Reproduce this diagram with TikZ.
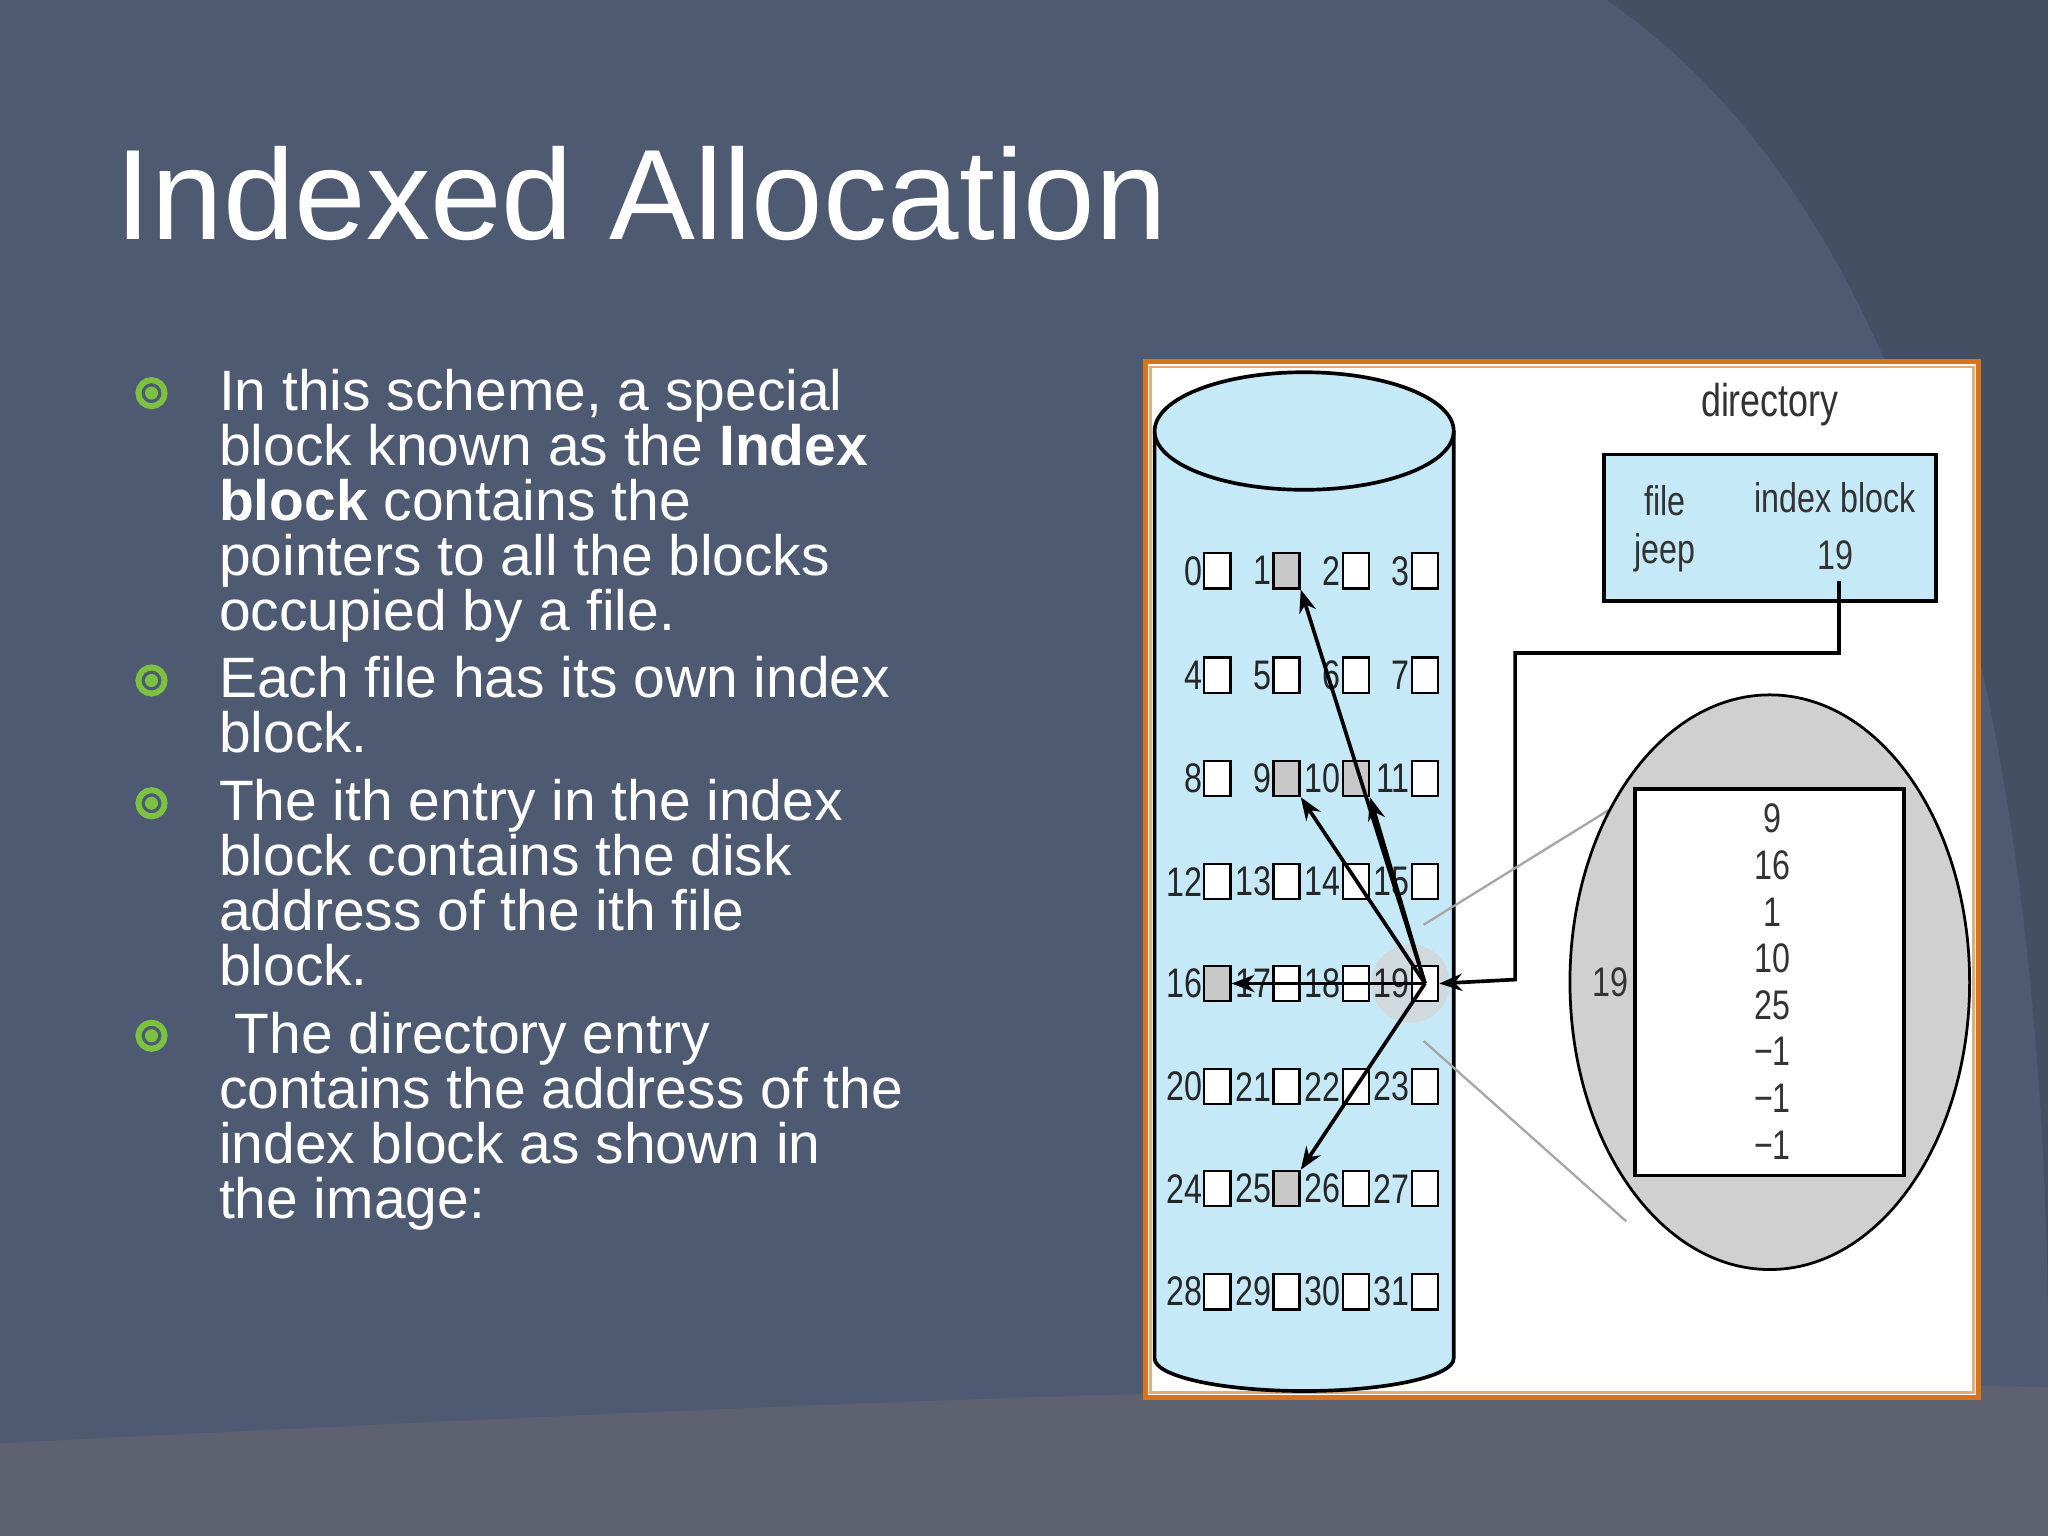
\documentclass[tikz,border=0pt]{standalone}
\usepackage{fontspec}
\setmainfont{Liberation Sans}
\newfontfamily\narrowf[FakeStretch=0.78]{Liberation Sans}
\usetikzlibrary{arrows.meta}
\definecolor{bg}{HTML}{4E5A71}
\definecolor{bgdark}{HTML}{454F63}
\definecolor{bgband}{HTML}{5E6270}
\definecolor{cyl}{HTML}{C6E9F8}
\definecolor{bul}{HTML}{7DC142}
\definecolor{orng}{HTML}{D9731C}
\definecolor{gbox}{HTML}{C8C8C8}
\tikzset{
  blk/.style={draw=black,fill=white,minimum width=0.2cm,minimum height=0.27cm,inner sep=0pt,line width=0.5pt},
  gblk/.style={blk,fill=gbox},
  num/.style={font=\narrowf\fontsize{9}{9}\selectfont,text=black!85,inner sep=0pt,anchor=east},
  ptr/.style={-{Stealth[length=5pt]},line width=0.8pt},
  bodytxt/.style={text=white,font=\fontsize{12.4}{12}\selectfont,anchor=north west,align=left,inner sep=0pt},
  dtxt/.style={font=\narrowf\fontsize{9}{10}\selectfont,text=black!80,inner sep=0pt},
}
\begin{document}
\begin{tikzpicture}[x=0.01cm,y=-0.01cm]
\useasboundingbox (0,0) rectangle (1568,1176);
\fill[bg] (0,0) rectangle (1568,1176);
\fill[bgdark] (1230,0) .. controls (1450,150) and (1560,500) .. (1568,1000) -- (1568,0) -- cycle;
\fill[bgband] (0,1105) .. controls (500,1080) and (1100,1050) .. (1568,1062) -- (1568,1176) -- (0,1176) -- cycle;
\node[text=white,font=\fontsize{28}{30}\selectfont,anchor=base west,inner sep=0pt] (title) at (88,183) {Indexed Allocation};
% bullets
\foreach \y/\n in {301/b1,521/b2,615/b3,793/b4}{
  \node[circle,draw=bul,line width=1.3pt,minimum size=0.2cm,inner sep=0pt] (\n) at (116,\y) {};
  \fill[bul] (\n.center) circle (5);
}
\node[bodytxt] (t1) at (167,282) {In this scheme, a special\\block known as the \textbf{Index}\\\textbf{block} contains the\\pointers to all the blocks\\occupied by a file.};
\node[bodytxt] (t2) at (167,502) {Each file has its own index\\block.};
\node[bodytxt] (t3) at (167,596) {The ith entry in the index\\block contains the disk\\address of the ith file\\block.};
\node[bodytxt] (t4) at (167,774) {\ The directory entry\\contains the address of the\\index block as shown in\\the image:};
% diagram frame
\draw[orng,line width=1pt,fill=white] (877,277) rectangle (1515,1070);
\draw[orng!60,line width=0.6pt] (881,281) rectangle (1511,1066);
% cylinder
\fill[cyl] (884,330) -- (884,1040) arc[start angle=180,end angle=0,x radius=114.5,y radius=25] -- (1113,330) -- cycle;
\draw[line width=0.8pt] (884,330) -- (884,1040) arc[start angle=180,end angle=0,x radius=114.5,y radius=25] -- (1113,330);
\draw[line width=0.8pt,fill=cyl] (998.5,330) ellipse[x radius=114.5,y radius=45];
% highlight circle around 19
\fill[gbox!80,opacity=0.7] (1080,753) circle (30);
% blocks
\foreach \r/\y in {0/437,1/517,2/596,3/675,4/753,5/832,6/910,7/989}{
 \foreach \c/\x in {0/932,1/985,2/1038,3/1091}{
  \pgfmathtruncatemacro{\k}{4*\r+\c}
  \node[blk] (s\k) at (\x,\y) {};
  \node[num] (n\k) at (\x-11,\y) {\k};
 }
}
\foreach \k in {1,9,10,16,25}{\node[gblk] at (s\k) {};}
% pointers
\draw[ptr] (s19.center) -- (s1.south east);
\draw[ptr] (s19.center) -- (s9.south east);
\draw[ptr] (s19.center) -- (s10.south east);
\draw[ptr] (s19.center) -- (s16.east);
\draw[ptr] (s19.center) -- (s25.north east);
% directory
\node[dtxt,font=\narrowf\fontsize{10}{11}\selectfont] (dirl) at (1355,310) {directory};
\draw[line width=0.8pt,fill=cyl] (1228,348) rectangle (1482,460);
\node[dtxt] (hf) at (1275,383) {file};
\node[dtxt] (hi) at (1405,381) {index block};
\node[dtxt] (jeep) at (1275,423) {jeep};
\node[dtxt] (v19) at (1405,425) {19};
\draw[ptr] (1408,445) -- (1408,500) -- (1160,500) -- (1160,750) -- (s19.east);
% zoom lines
\draw[gray!70,line width=0.5pt] (1090,708) -- (1245,612);
\draw[gray!70,line width=0.5pt] (1090,797) -- (1245,935);
% big circle
\draw[line width=0.6pt,fill=gbox!85] (1355,752) ellipse[x radius=153,y radius=220];
\draw[line width=0.8pt,fill=white] (1252,604) rectangle (1458,900);
\node[dtxt] (i19) at (1233,752) {19};
\foreach \v [count=\i] in {9,16,1,10,25,−1,−1,−1}{
  \node[dtxt] (e\i) at (1357,591+35.7*\i) {\v};
}
\end{tikzpicture}
\end{document}
